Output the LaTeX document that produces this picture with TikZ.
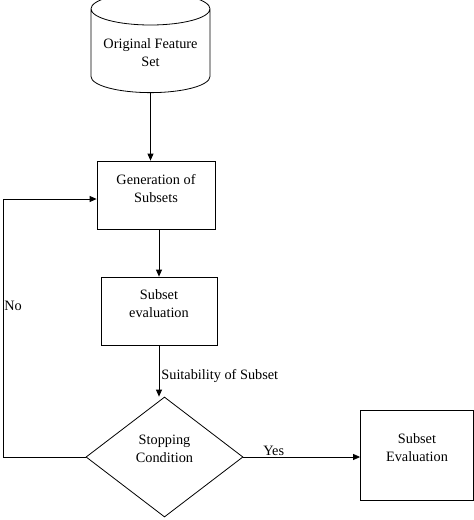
\documentclass[tikz,border=0pt]{standalone}
\usepackage{fontspec}
\setmainfont{Liberation Serif}
\usetikzlibrary{shapes.geometric,arrows.meta}

\begin{document}
\begin{tikzpicture}[x=1pt, y=-1pt, line width=0.8pt,
    font=\fontsize{14.3}{18}\selectfont,
    box/.style={draw, align=center, minimum width=118pt, minimum height=68pt, inner sep=2pt, text depth=14pt},
    store/.style={draw, cylinder, shape border rotate=90, aspect=0.33, align=center, minimum width=119pt, minimum height=100pt, inner sep=2pt},
    decision/.style={draw, diamond, align=center, minimum width=157pt, minimum height=120pt, inner sep=0pt, text depth=16pt},
    arrow/.style={-{Triangle[length=7pt, width=6pt]}}]
    \useasboundingbox (0,0) rectangle (474,520);

    % Define the nodes of the flow
    \node[store] (orig) at (150.5,53) {Original Feature\\Set};
    \node[box] (gen) at (156,195) {Generation of\\Subsets};
    \node[box, minimum width=116pt] (eval) at (159,311) {Subset\\evaluation};
    \node[decision] (stop) at (164.5,457) {Stopping\\Condition};
    \node[box, minimum width=113pt, minimum height=90pt] (final) at (417,455) {Subset\\Evaluation};
    \coordinate (back) at (3,457);
    \node[anchor=west, inner sep=1pt] (nolab) at (3,306) {No};

    % draw the arrows between the steps
    \draw[arrow] (orig.south) -- (orig.south |- gen.north);
    \draw[arrow] (eval.north |- gen.south) -- (eval.north);
    \draw[arrow] (eval.south) -- (eval.south |- stop.north)
        node[pos=0.6, right, inner sep=2pt] {Suitability of Subset};
    \draw[arrow] (stop.east) -- (stop.east -| final.west)
        node[pos=0.26, above, inner sep=1pt] {Yes};
    \draw[arrow] (stop.west) -- (back) |- ([yshift=-4pt]gen.west);
\end{tikzpicture}
\end{document}
